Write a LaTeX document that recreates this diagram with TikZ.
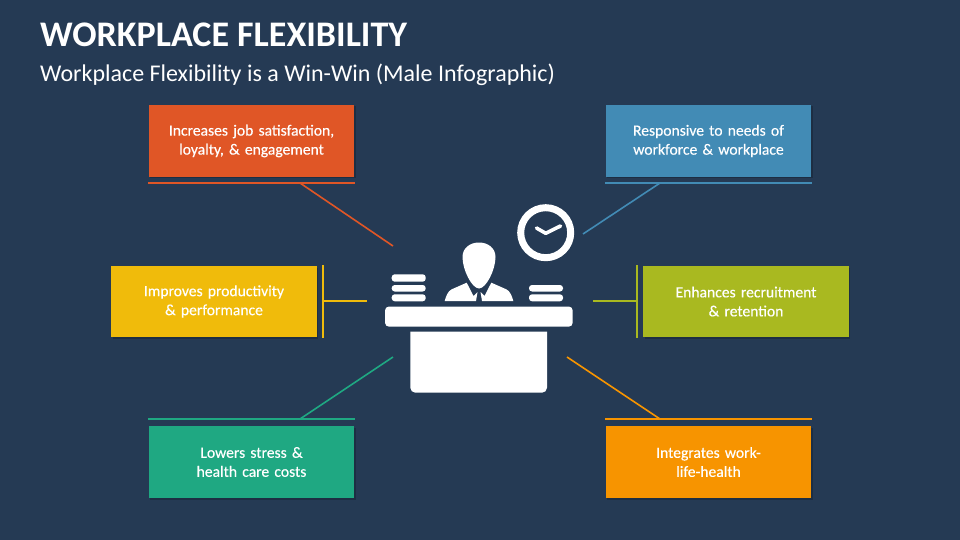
\documentclass[tikz,border=0pt]{standalone}
\usepackage{fontspec}
\setmainfont{Carlito}
\newfontfamily\boxfont[FakeBold=0.3]{Carlito}
\usetikzlibrary{shadows}
\definecolor{slide}{HTML}{253A54}
\definecolor{orangebox}{HTML}{E05626}
\definecolor{bluebox}{HTML}{428BB5}
\definecolor{yellowbox}{HTML}{F0BB0B}
\definecolor{greenbox}{HTML}{A9B920}
\definecolor{tealbox}{HTML}{1FA882}
\definecolor{amberbox}{HTML}{F79400}
\tikzstyle{benefit} = [rectangle, minimum width=205.5pt, minimum height=72pt, inner sep=0pt, text centered, text width=200pt, text=white, font=\boxfont\fontsize{15.6}{19}\selectfont, drop shadow={shadow xshift=1.5pt, shadow yshift=-1.5pt, opacity=0.2, fill=black}]
\tikzstyle{heading} = [anchor=base west, inner sep=0pt, text=white]
\tikzstyle{line} = [draw, line width=1.6pt]
\tikzstyle{icon} = [fill=white]

\begin{document}
\begin{tikzpicture}[x=1pt, y=-1pt]
            \fill [slide] (0,0) rectangle (960,540);
            \useasboundingbox (0,0) rectangle (960,540);

            % Draw titles
            \node (title) [heading, font=\fontsize{36}{36}\selectfont\bfseries] at (40,47) {WORKPLACE FLEXIBILITY};
            \node (subtitle) [heading, font=\fontsize{24}{24}\selectfont] at (40,82) {Workplace Flexibility is a Win-Win (Male Infographic)};

            % Draw nodes
            % Left column
            \node (job) [benefit, fill=orangebox] at (251.5,141) {Increases job satisfaction,\\loyalty, \& engagement};
            \node (prod) [benefit, fill=yellowbox, minimum height=71pt] at (214,301.5) {Improves productivity\\\& performance};
            \node (stress) [benefit, fill=tealbox, below of=job, node distance=321pt] {Lowers stress \&\\health care costs};

            % Right column
            \node (needs) [benefit, fill=bluebox, right of=job, node distance=457pt] {Responsive to needs of\\workforce \& workplace};
            \node (recruit) [benefit, fill=greenbox, minimum height=71pt, right of=prod, node distance=532pt] {Enhances recruitment\\\& retention};
            \node (health) [benefit, fill=amberbox, right of=stress, node distance=457pt] {Integrates work-\\life-health};

            % Bars and free ends
            \coordinate (jobl) at (148,183);
            \coordinate (jobr) at (355,183);
            \coordinate (jobm) at (300,183);
            \coordinate (jobe) at (393,246);
            \coordinate (needsl) at (605,183);
            \coordinate (needsr) at (812,183);
            \coordinate (needsm) at (660,183);
            \coordinate (needse) at (583,234);
            \coordinate (prodt) at (323,265);
            \coordinate (prodb) at (323,338);
            \coordinate (prodm) at (323,301);
            \coordinate (prode) at (367,301);
            \coordinate (recruitt) at (637,265);
            \coordinate (recruitb) at (637,338);
            \coordinate (recruitm) at (637,301);
            \coordinate (recruite) at (593,301);
            \coordinate (stressl) at (148,419);
            \coordinate (stressr) at (355,419);
            \coordinate (stressm) at (300,419);
            \coordinate (stresse) at (393,357);
            \coordinate (healthl) at (605,419);
            \coordinate (healthr) at (812,419);
            \coordinate (healthm) at (660,419);
            \coordinate (healthe) at (567,357);

            % Draw lines
            \path [line, draw=orangebox] (jobl) -- (jobr);
            \path [line, draw=orangebox] (jobm) -- (jobe);
            \path [line, draw=bluebox] (needsl) -- (needsr);
            \path [line, draw=bluebox] (needsm) -- (needse);
            \path [line, draw=yellowbox] (prodt) -- (prodb);
            \path [line, draw=yellowbox] (prodm) -- (prode);
            \path [line, draw=greenbox] (recruitt) -- (recruitb);
            \path [line, draw=greenbox] (recruitm) -- (recruite);
            \path [line, draw=tealbox] (stressl) -- (stressr);
            \path [line, draw=tealbox] (stressm) -- (stresse);
            \path [line, draw=amberbox] (healthl) -- (healthr);
            \path [line, draw=amberbox] (healthm) -- (healthe);

            % Clock
            \draw [white, line width=7pt] (545.7,232.7) circle (25pt);
            \draw [white, line width=3.6pt, line cap=round, line join=round] (536.5,228) -- (545.7,233.3) -- (560.5,226);

            % Desk
            \fill [icon, rounded corners=4pt] (385,306.5) rectangle (572.7,326.7);
            \fill [icon] (410.3,331.7) -- (547,331.7) [rounded corners=5pt] -- (547,392.7) -- (410.3,392.7) [sharp corners] -- cycle;

            % Paper stacks
            \fill [icon, rounded corners=3pt] (391.7,274.3) rectangle (425.7,281.7);
            \fill [icon, rounded corners=3pt] (391.7,285) rectangle (425.7,291.5);
            \fill [icon, rounded corners=3pt] (391.7,294.3) rectangle (425.7,301.3);
            \fill [icon, rounded corners=3pt] (529,285) rectangle (563,291.5);
            \fill [icon, rounded corners=3pt] (529,294.3) rectangle (563,301.3);

            % Man
            \fill [icon] (479,242.5) .. controls (470,242.5) and (462.5,248) .. (462.5,257) .. controls (462.5,270) and (472,288.5) .. (479,288.5) .. controls (486,288.5) and (495.5,270) .. (495.5,257) .. controls (495.5,248) and (488,242.5) .. (479,242.5) -- cycle;
            \fill [icon] (444.7,301) .. controls (446,296) and (448,291) .. (451.7,289.3) -- (466.7,282.7) -- (473.5,296) -- (477.5,292) -- (476,301) -- cycle;
            \fill [icon] (513.3,301) .. controls (512,296) and (510,291) .. (506.3,289.3) -- (491.3,282.7) -- (484.5,296) -- (480.5,292) -- (482,301) -- cycle;
\end{tikzpicture}
\end{document}
